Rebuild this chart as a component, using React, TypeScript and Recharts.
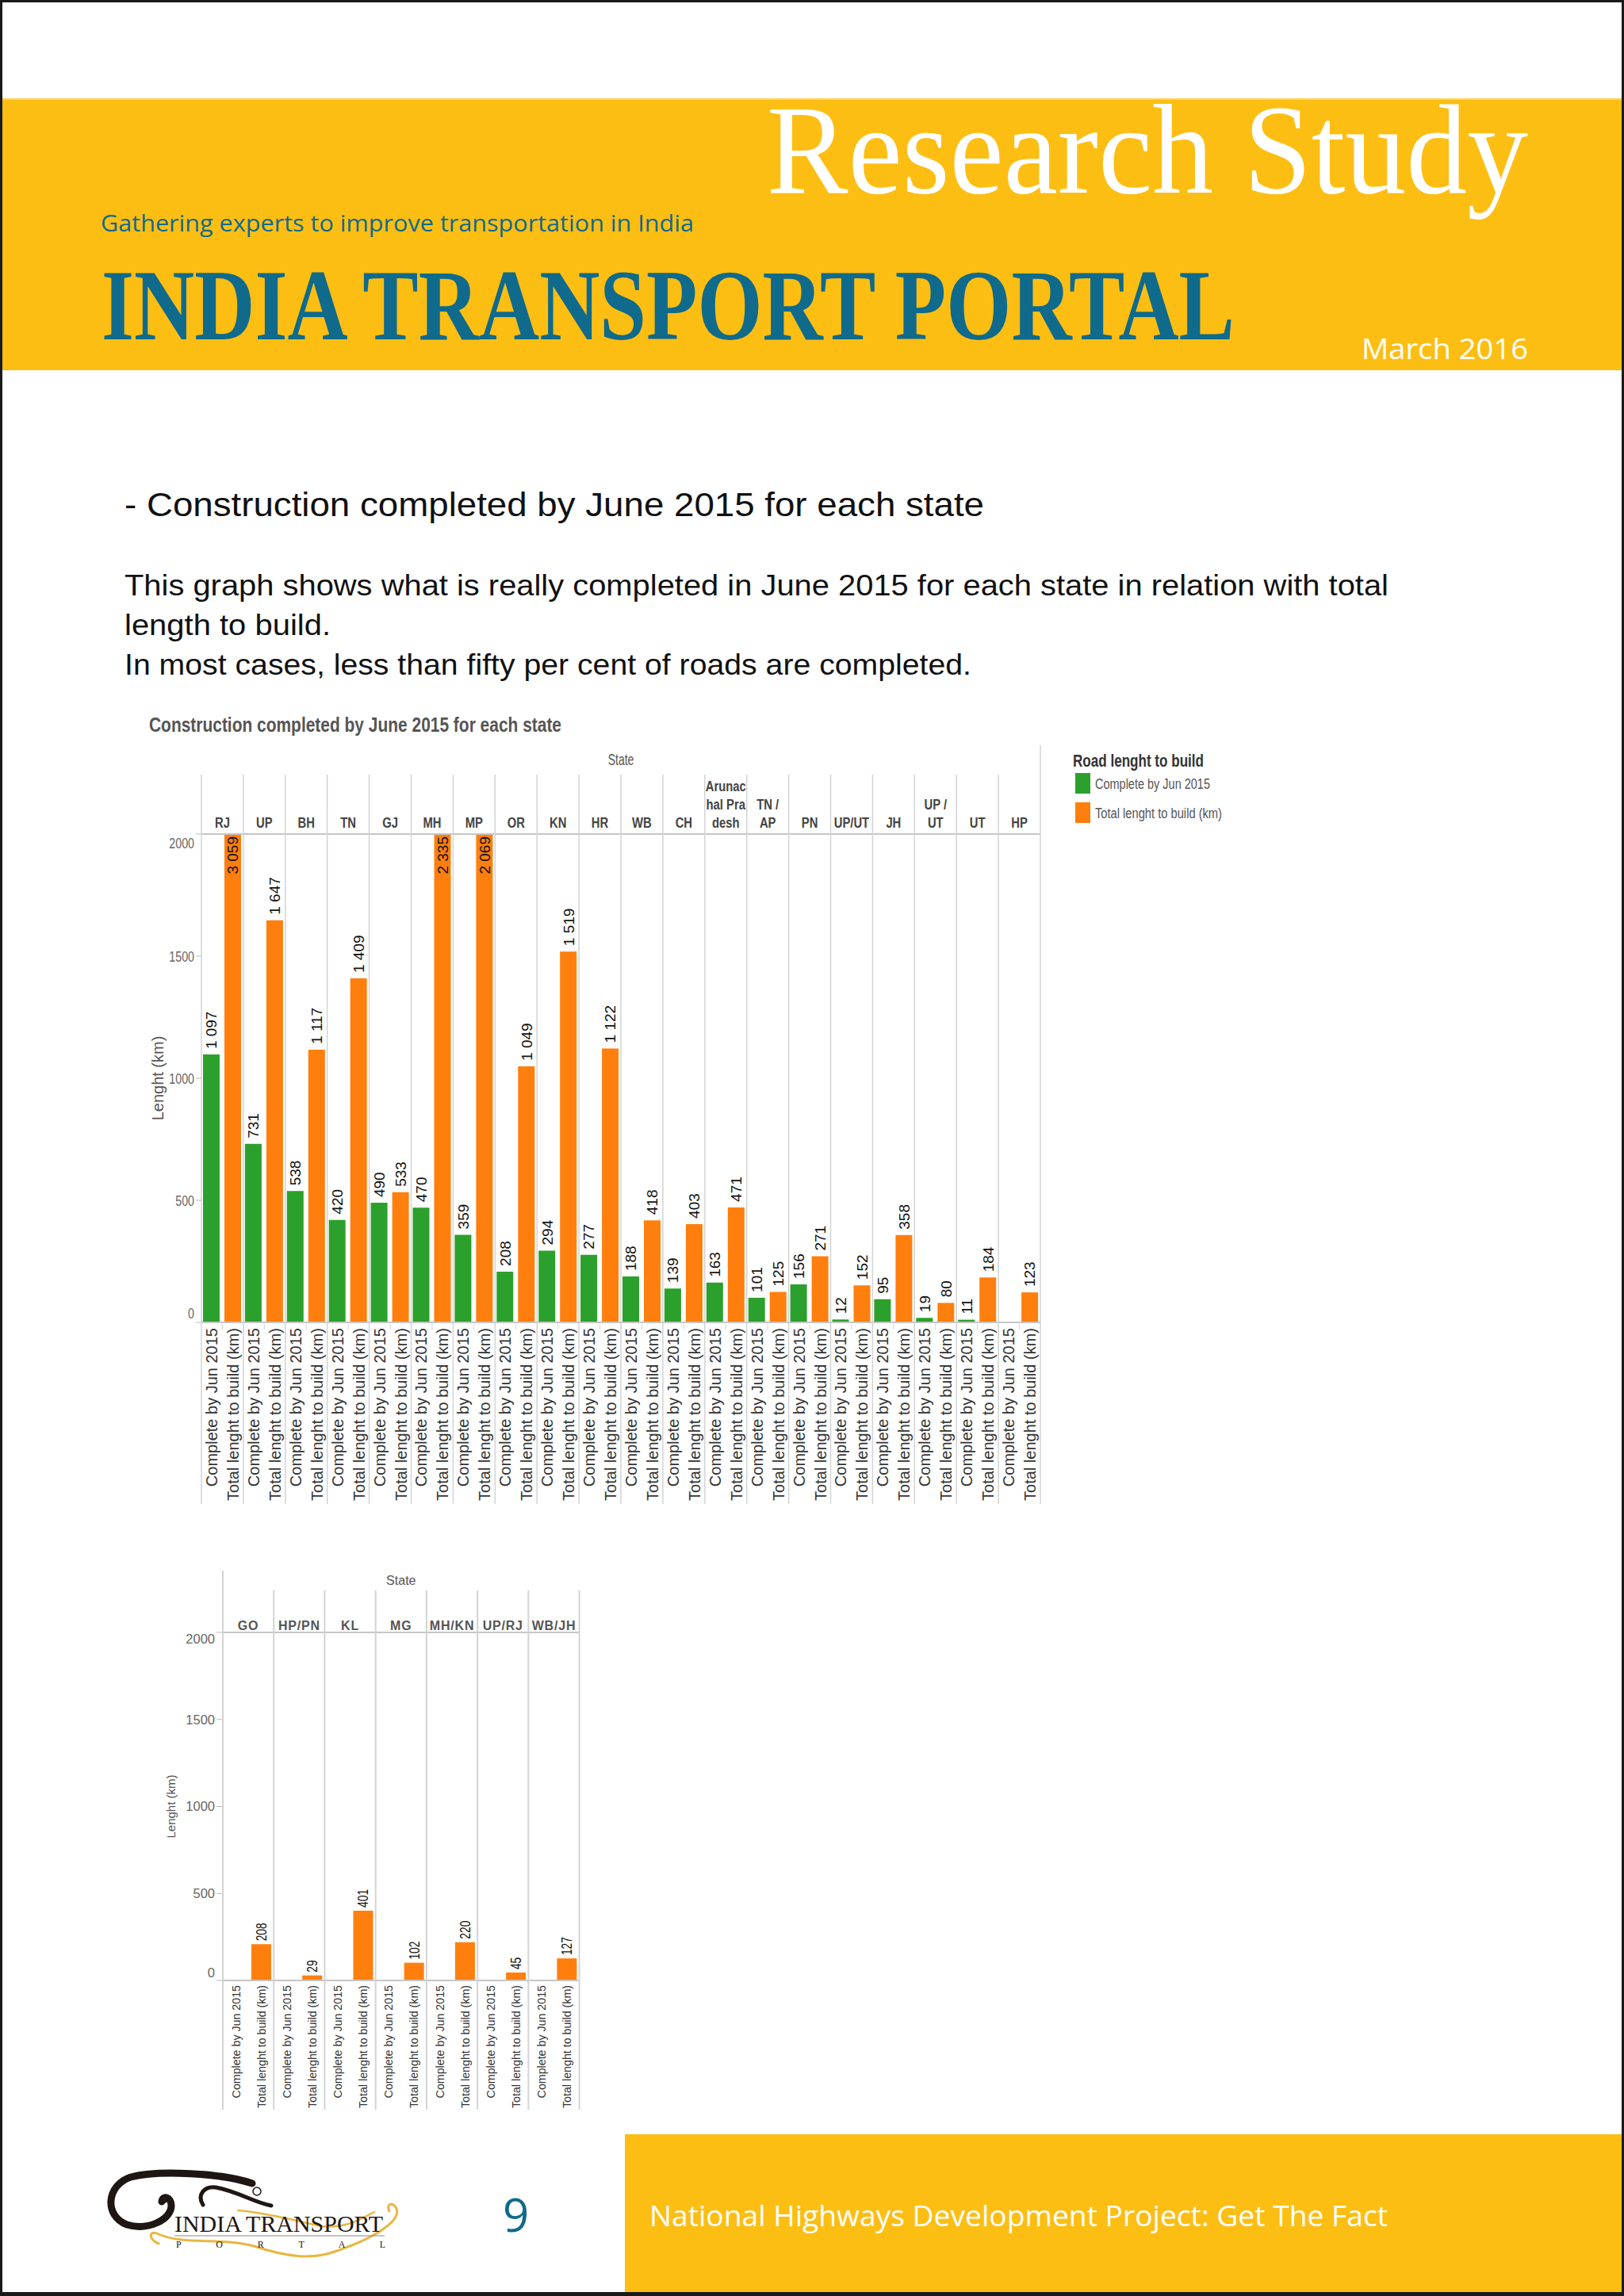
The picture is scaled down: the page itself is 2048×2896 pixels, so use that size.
import React from "react";
import {
  BarChart,
  Bar,
  XAxis,
  YAxis,
  LabelList,
  Legend,
  ReferenceLine,
} from "recharts";

// main chart (states with both values)
const states = [
  "RJ", "UP", "BH", "TN", "GJ", "MH", "MP", "OR", "KN", "HR",
  "WB", "CH", "Arunac\nhal Pra\ndesh", "TN /\nAP", "PN", "UP/UT", "JH", "UP /\nUT", "UT", "HP",
];
const completeJun2015 = [1097, 731, 538, 420, 490, 470, 359, 208, 294, 277, 188, 139, 163, 101, 156, 12, 95, 19, 11, 0];
const totalToBuild = [3059, 1647, 1117, 1409, 533, 2335, 2069, 1049, 1519, 1122, 418, 403, 471, 125, 271, 152, 358, 80, 184, 123];

// second chart (combined states, nothing completed)
const otherStates = ["GO", "HP/PN", "KL", "MG", "MH/KN", "UP/RJ", "WB/JH"];
const otherComplete = [null, null, null, null, null, null, null];
const otherTotal = [208, 29, 401, 102, 220, 45, 127];

const seriesNames = ["Complete by Jun 2015", "Total lenght to build (km)"];
const yTicks = [0, 500, 1000, 1500, 2000];

const TEAL = "#0f6a8b";
const YELLOW = "#fdbe14";
const GREEN = "#2ca02c";
const ORANGE = "#ff7f0e";
const SEP = "#d3d3d3";
const AXIS = "#c6c6c6";
const GOLD = "#e9b640";
const INK = "#1d1612";

const mainData = states.map((s, i) => ({ state: s, complete: completeJun2015[i], total: totalToBuild[i] }));
const otherData = otherStates.map((s, i) => ({ state: s, complete: otherComplete[i], total: otherTotal[i] }));

const fmt = (v: number) => String(v).replace(/\B(?=(\d{3})+(?!\d))/g, " ");

// layout of the two charts (page pixels)
const MAIN = { left: 150, top: 940, w: 1450, h: 980, plotL: 104, plotR: 1162, plotT: 112, plotB: 728 };
const mainBand = (MAIN.plotR - MAIN.plotL) / states.length;
const OTHER = { left: 150, top: 1960, w: 620, h: 710, plotL: 131, plotR: 580.6, plotT: 99, plotB: 538 };
const otherBand = (OTHER.plotR - OTHER.plotL) / otherStates.length;

function YTick(props: any) {
  const { x, y, payload, fs, sx, top, bottom } = props;
  let dy = 0;
  if (payload.value === 2000) dy = top;
  if (payload.value === 0) dy = bottom;
  return (
    <text transform={`translate(${x},${y + dy}) scale(${sx},1)`} textAnchor="end" dy="0.35em" fontSize={fs} fill="#666">
      {payload.value}
    </text>
  );
}

function MainTick(props: any) {
  const { x, payload } = props;
  const half = mainBand / 2;
  const last = payload.value === states[states.length - 1];
  const lines = String(payload.value).split("\n");
  return (
    <g>
      <line x1={x - half} x2={x - half} y1={37} y2={957} stroke={SEP} strokeWidth={1.5} />
      {last && <line x1={x + half} x2={x + half} y1={0} y2={957} stroke={SEP} strokeWidth={1.5} />}
      <line x1={x} x2={x} y1={MAIN.plotB + 2} y2={MAIN.plotB + 9} stroke={SEP} />
      {lines.map((l, i) => (
        <text
          key={i}
          transform={`translate(${x},${104 - (lines.length - 1 - i) * 23}) scale(0.78,1)`}
          textAnchor="middle"
          fontSize={19}
          fontWeight="bold"
          fill="#444"
        >
          {l}
        </text>
      ))}
      {seriesNames.map((t, i) => (
        <text
          key={t}
          transform={`translate(${x + (i === 0 ? -13.5 : 13.5) + 7},${MAIN.plotB + 7}) rotate(-90)`}
          textAnchor="end"
          fontSize={20}
          fill="#333"
        >
          {t}
        </text>
      ))}
    </g>
  );
}

function OtherTick(props: any) {
  const { x, payload } = props;
  const half = otherBand / 2;
  const first = payload.value === otherStates[0];
  const last = payload.value === otherStates[otherStates.length - 1];
  return (
    <g>
      <line x1={x - half} x2={x - half} y1={first ? 21 : 46} y2={701} stroke={SEP} strokeWidth={2} />
      {last && <line x1={x + half} x2={x + half} y1={46} y2={701} stroke={SEP} strokeWidth={2} />}
      <text x={x} y={96} textAnchor="middle" fontSize={16} fontWeight="bold" letterSpacing={0.8} fill="#555">
        {payload.value}
      </text>
      {seriesNames.map((t, i) => (
        <text
          key={t}
          transform={`translate(${x + (i === 0 ? -16 : 16) + 5.5},${OTHER.plotB + 6}) rotate(-90) scale(0.95,1)`}
          textAnchor="end"
          fontSize={15}
          fill="#333"
        >
          {t}
        </text>
      ))}
    </g>
  );
}

const barLabel = (plotT: number, fs: number, sx: number, gap: number) => (props: any) => {
  const vb = props.viewBox || {};
  const x = props.x ?? vb.x;
  const y = props.y ?? vb.y;
  const width = props.width ?? vb.width;
  const value = props.value;
  if (value == null) return null;
  const cx = x + width / 2;
  const over = value > 2000;
  const ty = over ? plotT + 3 : y - gap;
  return (
    <text
      transform={`translate(${cx + fs * 0.36},${ty}) rotate(-90) scale(${sx},1)`}
      textAnchor={over ? "end" : "start"}
      fontSize={fs}
      fill="#111"
    >
      {fmt(value)}
    </text>
  );
};

function MainLegend(props: any) {
  const items = props.payload && props.payload.length ? props.payload : seriesNames.map((n, i) => ({ value: n, color: i ? ORANGE : GREEN }));
  return (
    <svg width={260} height={110} style={{ display: "block" }}>
      <text x={3} y={27} fontSize={22} fontWeight="bold" fill="#333" textLength={165} lengthAdjust="spacingAndGlyphs">
        Road lenght to build
      </text>
      {items.map((it: any, i: number) => (
        <g key={it.value}>
          <rect x={6} y={35 + i * 37} width={19} height={26} fill={it.color} />
          <text x={31} y={55 + i * 37} fontSize={18} fill="#555" textLength={i ? 160 : 145} lengthAdjust="spacingAndGlyphs">
            {it.value}
          </text>
        </g>
      ))}
    </svg>
  );
}

function PageDecor() {
  return (
    <svg width={2048} height={2896} style={{ position: "absolute", left: 0, top: 0 }}>
      <rect x={0} y={124} width={2048} height={343} fill={YELLOW} />
      <line x1={0} x2={2048} y1={125} y2={125} stroke="#fdd35a" strokeWidth={2} />
      <text x={1927} y={243} textAnchor="end" fontFamily='"Liberation Serif", serif' fontSize={160} fill="#fff" textLength={960} lengthAdjust="spacingAndGlyphs">
        Research Study
      </text>
      <text x={127} y={292} fontFamily='"Open Sans", sans-serif' fontSize={30} fill={TEAL} textLength={748} lengthAdjust="spacingAndGlyphs">
        Gathering experts to improve transportation in India
      </text>
      <text x={128} y={428} fontFamily='"Liberation Serif", serif' fontWeight="bold" fontSize={128} fill={TEAL} textLength={1429} lengthAdjust="spacingAndGlyphs">
        INDIA TRANSPORT PORTAL
      </text>
      <text x={1927} y={453} textAnchor="end" fontFamily='"Open Sans", sans-serif' fontSize={36} fill="#fff" textLength={210} lengthAdjust="spacingAndGlyphs">
        March 2016
      </text>

      <g fontFamily='"Liberation Sans", Arial, sans-serif' fill="#111">
        <text x={157} y={651} fontSize={43} textLength={1084} lengthAdjust="spacingAndGlyphs">
          - Construction completed by June 2015 for each state
        </text>
        <text x={157} y={751} fontSize={37} textLength={1594} lengthAdjust="spacingAndGlyphs">
          This graph shows what is really completed in June 2015 for each state in relation with total
        </text>
        <text x={157} y={801} fontSize={37} textLength={260} lengthAdjust="spacingAndGlyphs">
          length to build.
        </text>
        <text x={157} y={851} fontSize={37} textLength={1068} lengthAdjust="spacingAndGlyphs">
          In most cases, less than fifty per cent of roads are completed.
        </text>
      </g>

      <text x={188} y={923} fontFamily='"Liberation Sans", Arial, sans-serif' fontWeight="bold" fontSize={25} fill="#555" textLength={520} lengthAdjust="spacingAndGlyphs">
        Construction completed by June 2015 for each state
      </text>

      {/* footer */}
      <rect x={788} y={2692} width={1260} height={204} fill={YELLOW} />
      <text x={819} y={2808} fontFamily='"Open Sans", sans-serif' fontSize={37} fill="#fff" textLength={931} lengthAdjust="spacingAndGlyphs">
        National Highways Development Project: Get The Fact
      </text>
      <text x={634} y={2815} fontFamily='"Open Sans", sans-serif' fontSize={58} fill={TEAL}>
        9
      </text>

      {/* logo */}
      <g fill="none" strokeLinecap="round">
        <path d="M 200 2830 C 186 2824, 188 2812, 200 2818 C 232 2832, 280 2822, 320 2833 C 360 2846, 392 2851, 422 2840 C 470 2824, 506 2802, 500 2786 C 496 2776, 486 2780, 491 2789" stroke={GOLD} strokeWidth={3} />
        <path d="M 300 2788 C 330 2790, 370 2800, 400 2807 C 430 2813, 452 2801, 472 2790" stroke={GOLD} strokeWidth={2.5} />
        <path d="M 318 2754 C 280 2741, 200 2737, 165 2746 C 134 2756, 131 2795, 160 2806 C 186 2814, 216 2800, 216 2782 C 216 2771, 205 2768, 204 2777" stroke={INK} strokeWidth={9} />
        <path d="M 256 2781 C 248 2768, 258 2757, 272 2759 C 300 2764, 320 2778, 342 2782" stroke={INK} strokeWidth={5} />
        <circle cx={324} cy={2764} r={5} stroke={INK} strokeWidth={1.5} />
      </g>
      <circle cx={207} cy={2774} r={5} fill={INK} />
      <text x={220} y={2815} fontFamily='"Liberation Serif", serif' fontSize={30} fill={INK} textLength={263} lengthAdjust="spacingAndGlyphs">
        INDIA TRANSPORT
      </text>
      <line x1={220} x2={485} y1={2820} y2={2820} stroke="#888" strokeWidth={1.2} />
      <text x={222} y={2835} fontFamily='"Liberation Serif", serif' fontSize={12} fill={INK} textLength={264} lengthAdjust="spacing">
        P O R T A L
      </text>

      {/* page frame */}
      <rect x={1.5} y={1.5} width={2045} height={2893} fill="none" stroke="#1a1a1a" strokeWidth={3} />
      <rect x={0} y={2891} width={2048} height={5} fill="#1a1a1a" />
    </svg>
  );
}

export default function App() {
  return (
    <div style={{ position: "absolute", left: 0, top: 0, width: 2048, height: 2896, background: "#fff", overflow: "hidden" }}>
      <PageDecor />

      <div style={{ position: "absolute", left: MAIN.left, top: MAIN.top, width: MAIN.w, height: MAIN.h, fontFamily: '"Liberation Sans", Arial, sans-serif' }}>
        <BarChart
          width={MAIN.w}
          height={MAIN.h}
          data={mainData}
          margin={{ top: MAIN.plotT, right: MAIN.w - MAIN.plotR, bottom: 0, left: 0 }}
          barGap={6}
          barCategoryGap={0}
        >
          <XAxis
            dataKey="state"
            interval={0}
            height={MAIN.h - MAIN.plotB}
            tickLine={false}
            axisLine={{ stroke: AXIS, strokeWidth: 2 }}
            tick={(p: any) => <MainTick {...p} />}
          />
          <YAxis
            width={MAIN.plotL}
            domain={[0, 2000]}
            ticks={yTicks}
            interval={0}
            allowDataOverflow
            axisLine={false}
            tickSize={7}
            tickMargin={2}
            tickLine={{ stroke: "#bbb" }}
            tick={(p: any) => <YTick {...p} fs={19} sx={0.75} top={11} bottom={-12} />}
          />
          <ReferenceLine y={2000} stroke={AXIS} strokeWidth={2} />
          <Bar dataKey="complete" name={seriesNames[0]} fill={GREEN} barSize={21} isAnimationActive={false}>
            <LabelList dataKey="complete" content={barLabel(MAIN.plotT, 19, 1, 7)} />
          </Bar>
          <Bar dataKey="total" name={seriesNames[1]} fill={ORANGE} barSize={21} isAnimationActive={false}>
            <LabelList dataKey="total" content={barLabel(MAIN.plotT, 19, 1, 7)} />
          </Bar>
          <Legend
            layout="vertical"
            align="center"
            verticalAlign="middle"
            wrapperStyle={{ left: 1200, top: 0, width: 260, height: 110 }}
            content={(p: any) => <MainLegend payload={p.payload} />}
          />
          <text transform={`translate(${(MAIN.plotL + MAIN.plotR) / 2},25) scale(0.7,1)`} textAnchor="middle" fontSize={20} fill="#555">
            State
          </text>
          <text transform={`translate(56,${(MAIN.plotT + MAIN.plotB) / 2}) rotate(-90)`} textAnchor="middle" fontSize={20} fill="#555">
            Lenght (km)
          </text>
        </BarChart>
      </div>

      <div style={{ position: "absolute", left: OTHER.left, top: OTHER.top, width: OTHER.w, height: OTHER.h, fontFamily: '"Liberation Sans", Arial, sans-serif' }}>
        <BarChart
          width={OTHER.w}
          height={OTHER.h}
          data={otherData}
          margin={{ top: OTHER.plotT, right: OTHER.w - OTHER.plotR, bottom: 0, left: 0 }}
          barGap={7}
          barCategoryGap={0}
        >
          <XAxis
            dataKey="state"
            interval={0}
            height={OTHER.h - OTHER.plotB}
            tickLine={false}
            axisLine={{ stroke: AXIS, strokeWidth: 2 }}
            tick={(p: any) => <OtherTick {...p} />}
          />
          <YAxis
            width={OTHER.plotL}
            domain={[0, 2000]}
            ticks={yTicks}
            interval={0}
            allowDataOverflow
            axisLine={false}
            tickSize={8}
            tickMargin={2}
            tickLine={{ stroke: "#bbb" }}
            tick={(p: any) => <YTick {...p} fs={16.5} sx={1} top={8} bottom={-10} />}
          />
          <ReferenceLine y={2000} stroke={AXIS} strokeWidth={2} />
          <Bar dataKey="complete" name={seriesNames[0]} fill={GREEN} barSize={25} isAnimationActive={false}>
            <LabelList dataKey="complete" content={barLabel(OTHER.plotT, 18, 0.77, 4)} />
          </Bar>
          <Bar dataKey="total" name={seriesNames[1]} fill={ORANGE} barSize={25} isAnimationActive={false}>
            <LabelList dataKey="total" content={barLabel(OTHER.plotT, 18, 0.77, 4)} />
          </Bar>
          <text x={(OTHER.plotL + OTHER.plotR) / 2} y={39} textAnchor="middle" fontSize={16} fill="#555">
            State
          </text>
          <text transform={`translate(71,${(OTHER.plotT + OTHER.plotB) / 2}) rotate(-90)`} textAnchor="middle" fontSize={15} fill="#555">
            Lenght (km)
          </text>
        </BarChart>
      </div>
    </div>
  );
}
